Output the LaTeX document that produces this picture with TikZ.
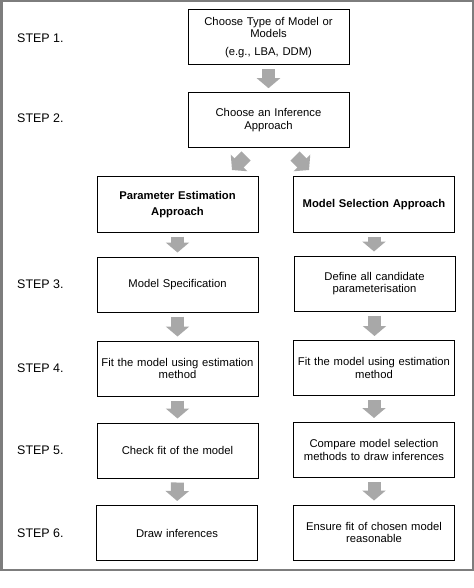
\documentclass[tikz,border=0pt]{standalone}
\usepackage{fontspec}
\setmainfont{Liberation Sans}
\usetikzlibrary{arrows.meta}
\definecolor{arrowgray}{RGB}{168,168,168}
\definecolor{framegray}{RGB}{125,125,125}
\tikzset{
  box/.style={draw=black, line width=1bp, minimum width=161bp, minimum height=55bp,
    align=center, text width=158bp, inner sep=0pt, font=\fontsize{11.3}{12.8}\selectfont},
  steplabel/.style={anchor=west, inner sep=0pt, font=\fontsize{12.5}{14}\selectfont},
  blockarrow/.style={draw=arrowgray, line width=13bp, line cap=butt,
    -{Triangle[width=23bp,length=10bp]}, shorten <=4bp, shorten >=4bp},
  diagarrow/.style={draw=arrowgray, line width=13bp, line cap=butt,
    -{Triangle[width=23bp,length=10bp]}},
}
\begin{document}
\begin{tikzpicture}[x=1bp,y=1bp]
\useasboundingbox (0,0) rectangle (474,-588);
\fill[white] (0,0) rectangle (474,-588);
\draw[framegray, line width=2.5bp] (1.25,-1.25) rectangle (472.75,-570);

% step labels
\node[steplabel] (s1) at (17,-38) {STEP 1.};
\node[steplabel] (s2) at (17,-118) {STEP 2.};
\node[steplabel] (s3) at (17,-284) {STEP 3.};
\node[steplabel] (s4) at (17,-368) {STEP 4.};
\node[steplabel] (s5) at (17,-450) {STEP 5.};
\node[steplabel] (s6) at (17,-533) {STEP 6.};

% boxes
\node[box] (b1) at (268.5,-37.5) {Choose Type of Model or\\Models\\[5pt](e.g., LBA, DDM)};
\node[box] (b2) at (268.5,-120.2) {Choose an Inference\\Approach};
\node[box] (pL) at (177.5,-204.5) {\textbf{Parameter Estimation}\\[4pt]\textbf{Approach}};
\node[box] (pR) at (374,-204.5) {\textbf{Model Selection Approach}};
\node[box] (sL) at (177.5,-284.5) {Model Specification};
\node[box] (sR) at (374.5,-283.5) {Define all candidate\\parameterisation};
\node[box] (fL) at (177.5,-368.5) {Fit the model using estimation\\method};
\node[box] (fR) at (374,-368) {Fit the model using estimation\\method};
\node[box] (cL) at (177.5,-450.5) {Check fit of the model};
\node[box] (cR) at (374,-450) {Compare model selection\\methods to draw inferences};
\node[box] (dL) at (177,-533) {Draw inferences};
\node[box] (dR) at (374,-532.5) {Ensure fit of chosen model\\reasonable};

% connectors
\draw[blockarrow] (b1) -- (b2);
\coordinate (dls) at (246,-156);
\coordinate (dle) at (232,-170);
\coordinate (drs) at (295,-156);
\coordinate (dre) at (309,-170);
\draw[diagarrow] (dls) -- (dle);
\draw[diagarrow] (drs) -- (dre);
\draw[blockarrow] (pL) -- (sL);
\draw[blockarrow] (sL) -- (fL);
\draw[blockarrow] (fL) -- (cL);
\draw[blockarrow] (cL) -- (dL);
\draw[blockarrow] (pR.south) -- (pR.south |- sR.north);
\draw[blockarrow] (sR.south) -- (sR.south |- fR.north);
\draw[blockarrow] (fR.south) -- (fR.south |- cR.north);
\draw[blockarrow] (cR.south) -- (cR.south |- dR.north);
\end{tikzpicture}
\end{document}
